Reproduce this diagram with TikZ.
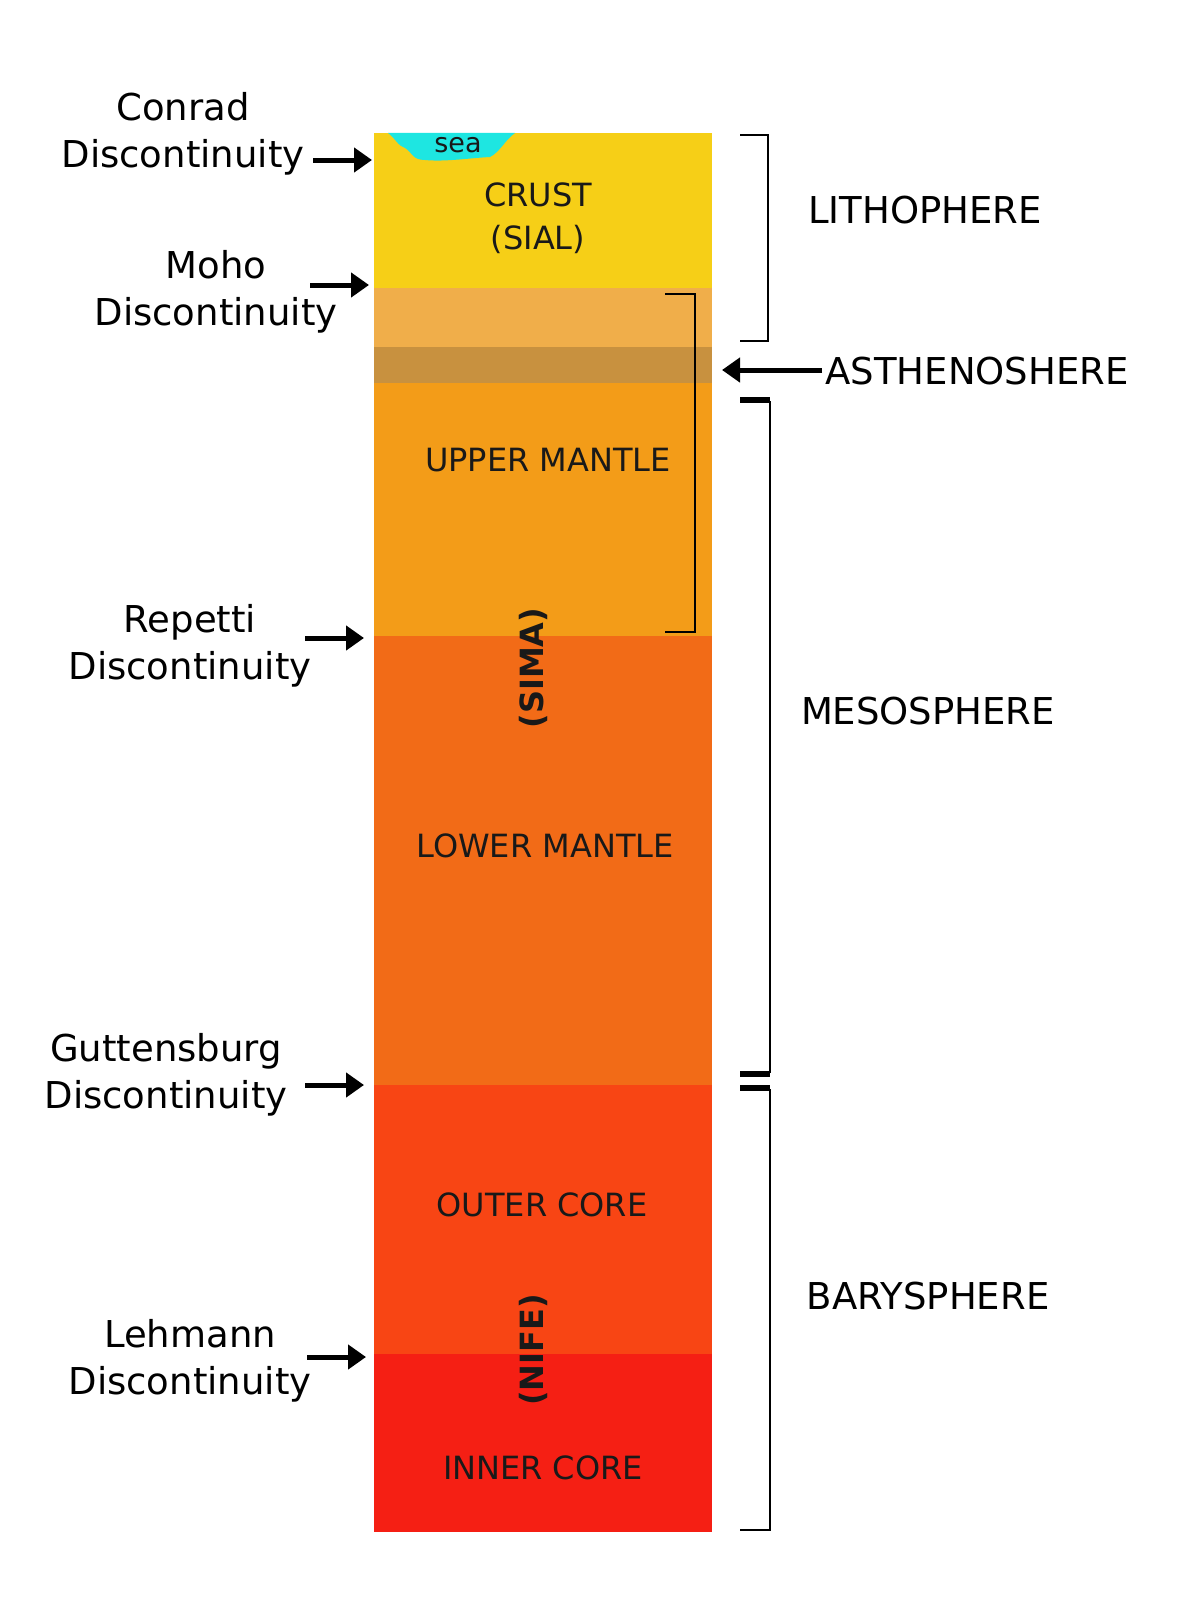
\documentclass[tikz,border=0pt]{standalone}
\usepackage{fontspec}
\setmainfont{DejaVu Sans}
\usetikzlibrary{arrows.meta}
\begin{document}
\begin{tikzpicture}[x=1pt,y=-1pt,
  lab/.style={font=\fontsize{37}{47}\selectfont, align=center, inner sep=0},
  inlab/.style={font=\fontsize{32}{43}\selectfont, align=center, inner sep=0, text=black!90},
  arr/.style={-{Triangle[length=18pt,width=24pt]}, line width=5pt},
  brk/.style={line width=2.2pt}]
\useasboundingbox (0,0) rectangle (1177,1600);
\fill[white] (0,0) rectangle (1177,1600);
\fill[fill={rgb,255:red,246;green,207;blue,23}] (374,133) rectangle (712,288);
\fill[fill={rgb,255:red,240;green,174;blue,74}] (374,288) rectangle (712,347);
\fill[fill={rgb,255:red,200;green,145;blue,63}] (374,347) rectangle (712,383);
\fill[fill={rgb,255:red,243;green,156;blue,24}] (374,383) rectangle (712,636);
\fill[fill={rgb,255:red,242;green,107;blue,23}] (374,636) rectangle (712,1085);
\fill[fill={rgb,255:red,248;green,69;blue,20}] (374,1085) rectangle (712,1354);
\fill[fill={rgb,255:red,245;green,31;blue,20}] (374,1354) rectangle (712,1532);
\fill[fill={rgb,255:red,30;green,230;blue,225}] (388,133) .. controls (395,138) and (398,146) .. (405,148)
  .. controls (412,152) and (412,160) .. (425,160) .. controls (445,162) and (470,158) .. (490,157)
  .. controls (500,152) and (505,140) .. (515,133) -- cycle;
\node[inlab, font=\fontsize{27}{30}\selectfont] (sea) at (458,145) {sea};
\node[inlab] (crust) at (538,218) {CRUST\\(SIAL)};
\node[inlab] (um) at (548,460) {UPPER MANTLE};
\node[inlab, rotate=90, font=\fontsize{32}{43}\selectfont\bfseries] (sima) at (533,668) {(SIMA)};
\node[inlab] (lm) at (545,846) {LOWER MANTLE};
\node[inlab] (oc) at (542,1205) {OUTER CORE};
\node[inlab, rotate=90, font=\fontsize{32}{43}\selectfont\bfseries] (nife) at (533,1350) {(NIFE)};
\node[inlab] (ic) at (543,1468) {INNER CORE};
% left labels
\node[lab] (conrad) at (183,134) {Conrad\\Discontinuity};
\node[lab] (moho) at (216,292) {Moho\\Discontinuity};
\node[lab] (rep) at (190,646) {Repetti\\Discontinuity};
\node[lab] (gut) at (166,1075) {Guttensburg\\Discontinuity};
\node[lab] (leh) at (190,1361) {Lehmann\\Discontinuity};
\coordinate (c1) at (313,160); \coordinate (c2) at (372,160);
\coordinate (m1) at (310,285); \coordinate (m2) at (369,285);
\coordinate (r1) at (305,638); \coordinate (r2) at (364,638);
\coordinate (g1) at (305,1085); \coordinate (g2) at (364,1085);
\coordinate (l1) at (307,1357); \coordinate (l2) at (366,1357);
\draw[arr] (c1) -- (c2);
\draw[arr] (m1) -- (m2);
\draw[arr] (r1) -- (r2);
\draw[arr] (g1) -- (g2);
\draw[arr] (l1) -- (l2);
% right labels
\node[lab] (lith) at (925,210) {LITHOPHERE};
\node[lab] (asth) at (977,371) {ASTHENOSHERE};
\node[lab] (meso) at (928,711) {MESOSPHERE};
\node[lab] (bary) at (928,1296) {BARYSPHERE};
\coordinate (a1) at (822,370); \coordinate (a2) at (722,370);
\draw[arr] (a1) -- (a2);
% brackets
\draw[brk] (740,135) -- (768,135) -- (768,341) -- (740,341);
\draw[brk] (665,294) -- (695,294) -- (695,632) -- (665,632);
\draw[brk] (740,402) -- (770,402) -- (770,1072) -- (740,1072);
\draw[line width=3.5pt] (740,399) -- (770,399) (740,1075) -- (770,1075);
\draw[brk] (740,1090) -- (770,1090) -- (770,1530) -- (740,1530);
\draw[line width=3.5pt] (740,1087) -- (770,1087);
\end{tikzpicture}
\end{document}
